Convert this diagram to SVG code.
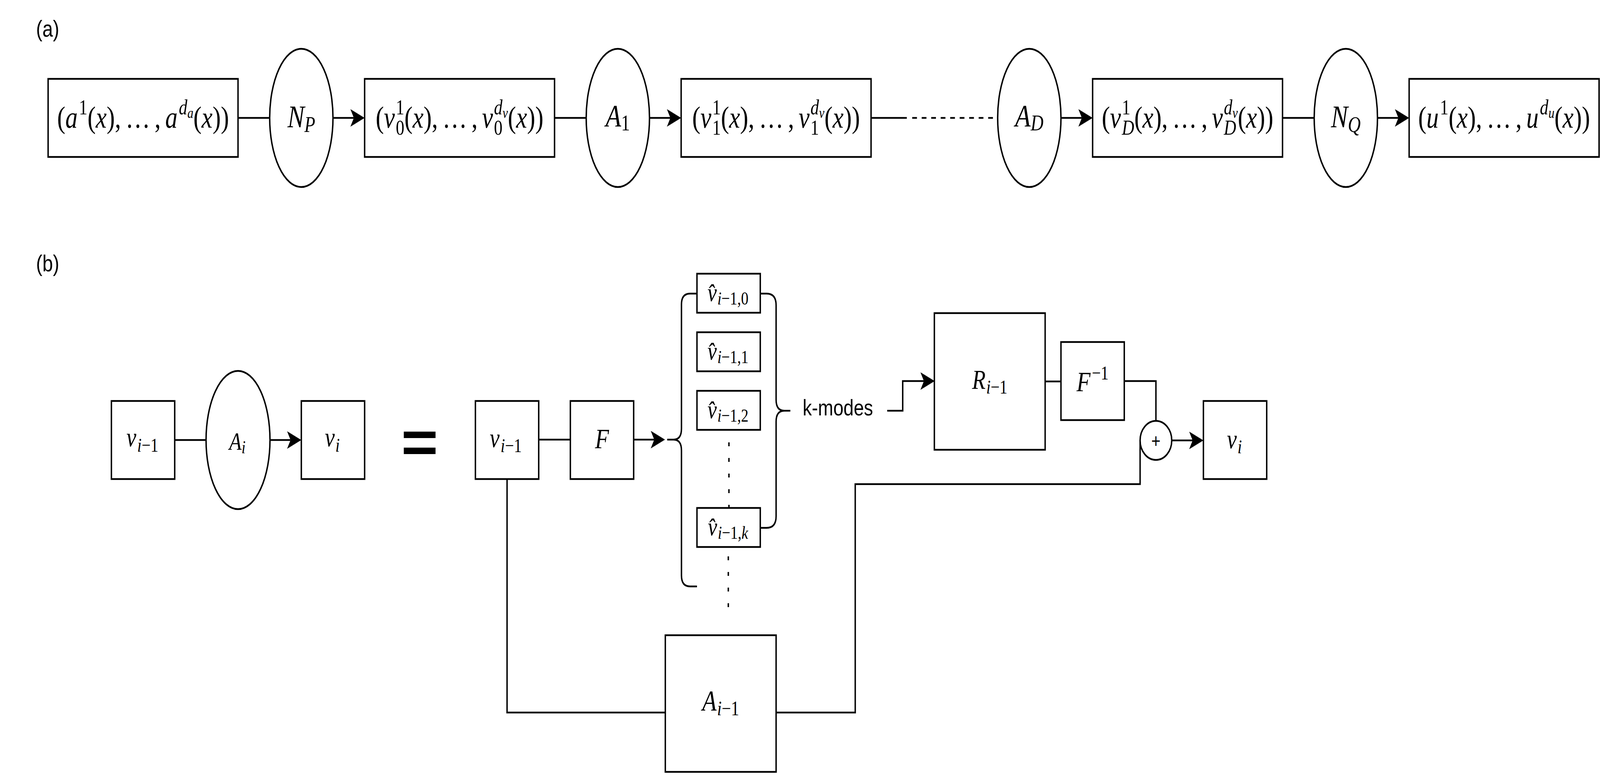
<svg xmlns="http://www.w3.org/2000/svg" width="5055" height="1985" viewBox="0 0 5055 1985" preserveAspectRatio="none" style="width:100%;height:100%;display:block">
<defs>
<marker id="arr" markerUnits="userSpaceOnUse" markerWidth="45" markerHeight="45" viewBox="0 0 45 45" refX="11" refY="22.5" orient="auto"><path d="M0,0 L45,22.5 L0,45 L11,22.5 Z" fill="#000"/></marker>
</defs>
<style>
.s{fill:#fff;stroke:#000;stroke-width:4.5}
.c{fill:none;stroke:#000;stroke-width:4.5}
.ar{marker-end:url(#arr)}
.m{font-family:"Liberation Serif","Times New Roman",serif;fill:#000}
.i{font-style:italic}
.lbl{font-family:"Liberation Sans",Arial,sans-serif;fill:#000}
</style>
<rect width="5055" height="1985" fill="#fff"/>
<text class="lbl" x="114" y="94" font-size="60">(a)</text>
<text class="lbl" x="114" y="695" font-size="60">(b)</text>

<g id="connectors">
<path class="c" d="M752,302 H852"/>
<path class="c ar" d="M1052,302 H1118"/>
<path class="c" d="M1752,302 H1852"/>
<path class="c ar" d="M2052,302 H2118"/>
<path class="c" d="M2752,302 H2865"/>
<path class="c" d="M2867,302 H3153" stroke-dasharray="15 15" stroke-dashoffset="15"/>
<path class="c ar" d="M3352,302 H3418"/>
<path class="c" d="M4052,302 H4152"/>
<path class="c ar" d="M4352,302 H4418"/>
<path class="c" d="M552,1127 H650"/>
<path class="c ar" d="M853,1127 H918"/>
<path class="c" d="M1702,1126 H1802"/>
<path class="c ar" d="M2002,1126 H2067"/>
<path class="c" d="M2202,752 H2180 Q2153,752 2153,780 V1098 Q2153,1126 2128,1126 H2108 M2108,1126 H2128 Q2153,1126 2153,1154 V1474 Q2153,1502 2180,1502 H2202"/>
<path class="c" d="M2402,752 H2422 Q2452,752 2452,782 V1024 Q2452,1052 2478,1052 H2497 M2497,1052 H2478 Q2452,1052 2452,1080 V1322 Q2452,1352 2422,1352 H2402"/>
<path class="c" d="M2303,1103 V1303" stroke-width="10" stroke-dasharray="10 30" stroke-dashoffset="10"/>
<path class="c" d="M2301,1403 V1555" stroke-width="10" stroke-dasharray="10 30" stroke-dashoffset="18"/>
<path class="c ar" d="M2803,1052 H2852 V976 H2919"/>
<path class="c" d="M3302,977 H3352"/>
<path class="c" d="M3552,976 H3652 V1078"/>
<path class="c ar" d="M3702,1128 H3768"/>
<path class="c" d="M1602,1228 V1825 H2102"/>
<path class="c" d="M2452,1825 H2702 V1240 H3602 V1128"/>
</g>

<g id="a-in">
<rect class="s" x="152" y="202" width="600" height="200"/>
<text class="m" x="452" y="327" font-size="78" text-anchor="middle">(<tspan class="i">a</tspan><tspan font-size="54" dx="4" dy="-34">1</tspan><tspan dy="34">(</tspan><tspan class="i">x</tspan>),<tspan dx="14">…</tspan><tspan dx="14">,</tspan><tspan class="i" dx="14">a</tspan><tspan class="i" font-size="54" dx="4" dy="-34">d</tspan><tspan class="i" font-size="38" dy="9">a</tspan><tspan dy="25">(</tspan><tspan class="i">x</tspan>))</text>
</g>
<g id="a-np">
<ellipse class="s" cx="952" cy="302" rx="100" ry="177"/>
<text class="m" x="952" y="326" font-size="80" text-anchor="middle"><tspan class="i">N</tspan><tspan class="i" font-size="56" dy="12">P</tspan></text>
</g>
<g id="a-v0">
<rect class="s" x="1152" y="202" width="600" height="200"/>
<text class="m" x="1452" y="327" font-size="78" text-anchor="middle">(<tspan class="i">v</tspan><tspan font-size="54" dx="3" dy="-34">1</tspan><tspan font-size="54" dx="-27" dy="52">0</tspan><tspan dy="-18">(</tspan><tspan class="i">x</tspan>),<tspan dx="14">…</tspan><tspan dx="14">,</tspan><tspan class="i" dx="14">v</tspan><tspan class="i" font-size="54" dx="3" dy="-34">d</tspan><tspan class="i" font-size="38" dy="9">v</tspan><tspan font-size="54" dx="-44" dy="43">0</tspan><tspan dx="17" dy="-18">(</tspan><tspan class="i">x</tspan>))</text>
</g>
<g id="a-a1">
<ellipse class="s" cx="1952" cy="302" rx="100" ry="177"/>
<text class="m" x="1952" y="324" font-size="80" text-anchor="middle"><tspan class="i">A</tspan><tspan font-size="56" dy="10">1</tspan></text>
</g>
<g id="a-v1">
<rect class="s" x="2152" y="202" width="600" height="200"/>
<text class="m" x="2452" y="327" font-size="78" text-anchor="middle">(<tspan class="i">v</tspan><tspan font-size="54" dx="3" dy="-34">1</tspan><tspan font-size="54" dx="-27" dy="52">1</tspan><tspan dy="-18">(</tspan><tspan class="i">x</tspan>),<tspan dx="14">…</tspan><tspan dx="14">,</tspan><tspan class="i" dx="14">v</tspan><tspan class="i" font-size="54" dx="3" dy="-34">d</tspan><tspan class="i" font-size="38" dy="9">v</tspan><tspan font-size="54" dx="-44" dy="43">1</tspan><tspan dx="17" dy="-18">(</tspan><tspan class="i">x</tspan>))</text>
</g>
<g id="a-ad">
<ellipse class="s" cx="3252" cy="302" rx="100" ry="177"/>
<text class="m" x="3252" y="324" font-size="80" text-anchor="middle"><tspan class="i">A</tspan><tspan class="i" font-size="56" dy="10">D</tspan></text>
</g>
<g id="a-vd">
<rect class="s" x="3452" y="202" width="600" height="200"/>
<text class="m" x="3752" y="327" font-size="78" text-anchor="middle">(<tspan class="i">v</tspan><tspan font-size="54" dx="3" dy="-34">1</tspan><tspan class="i" font-size="54" dx="-27" dy="52">D</tspan><tspan dy="-18">(</tspan><tspan class="i">x</tspan>),<tspan dx="14">…</tspan><tspan dx="14">,</tspan><tspan class="i" dx="14">v</tspan><tspan class="i" font-size="54" dx="3" dy="-34">d</tspan><tspan class="i" font-size="38" dy="9">v</tspan><tspan class="i" font-size="54" dx="-44" dy="43">D</tspan><tspan dx="5" dy="-18">(</tspan><tspan class="i">x</tspan>))</text>
</g>
<g id="a-nq">
<ellipse class="s" cx="4252" cy="302" rx="100" ry="177"/>
<text class="m" x="4252" y="326" font-size="80" text-anchor="middle"><tspan class="i">N</tspan><tspan class="i" font-size="56" dy="12">Q</tspan></text>
</g>
<g id="a-u">
<rect class="s" x="4452" y="202" width="600" height="200"/>
<text class="m" x="4752" y="327" font-size="78" text-anchor="middle">(<tspan class="i">u</tspan><tspan font-size="54" dx="4" dy="-34">1</tspan><tspan dy="34">(</tspan><tspan class="i">x</tspan>),<tspan dx="14">…</tspan><tspan dx="14">,</tspan><tspan class="i" dx="14">u</tspan><tspan class="i" font-size="54" dx="4" dy="-34">d</tspan><tspan class="i" font-size="38" dy="9">u</tspan><tspan dy="25">(</tspan><tspan class="i">x</tspan>))</text>
</g>

<g id="b-vprev">
<rect class="s" x="352" y="1027" width="200" height="200"/>
<text class="m" x="450" y="1143" font-size="70" text-anchor="middle"><tspan class="i">v</tspan><tspan font-size="50" dx="3" dy="14"><tspan class="i">i</tspan>−1</tspan></text>
</g>
<g id="b-ai">
<ellipse class="s" cx="752" cy="1127" rx="101" ry="177"/>
<text class="m" x="750" y="1152" font-size="64" text-anchor="middle"><tspan class="i">A</tspan><tspan class="i" font-size="46" dy="9">i</tspan></text>
</g>
<g id="b-vi">
<rect class="s" x="952" y="1027" width="200" height="200"/>
<text class="m" x="1050" y="1143" font-size="70" text-anchor="middle"><tspan class="i">v</tspan><tspan class="i" font-size="50" dx="2" dy="14">i</tspan></text>
</g>
<g id="b-eq" transform="translate(1326,1185) scale(1,0.76)">
<text class="lbl" x="0" y="0" font-size="200" font-weight="bold" text-anchor="middle">=</text>
</g>
<g id="b-vprev2">
<rect class="s" x="1502" y="1027" width="200" height="200"/>
<text class="m" x="1598" y="1145" font-size="70" text-anchor="middle"><tspan class="i">v</tspan><tspan font-size="50" dx="3" dy="13"><tspan class="i">i</tspan>−1</tspan></text>
</g>
<g id="b-f">
<rect class="s" x="1802" y="1027" width="200" height="200"/>
<text class="m i" x="1902" y="1148" font-size="72" text-anchor="middle">F</text>
</g>
<g id="b-h0">
<rect class="s" x="2202" y="701" width="200" height="100"/>
<text class="m" x="2300" y="771" font-size="66" text-anchor="middle"><tspan class="i">v̂</tspan><tspan font-size="47" dx="2" dy="9"><tspan class="i">i</tspan>−1,0</tspan></text>
</g>
<g id="b-h1">
<rect class="s" x="2202" y="851" width="200" height="100"/>
<text class="m" x="2300" y="921" font-size="66" text-anchor="middle"><tspan class="i">v̂</tspan><tspan font-size="47" dx="2" dy="9"><tspan class="i">i</tspan>−1,1</tspan></text>
</g>
<g id="b-h2">
<rect class="s" x="2202" y="1001" width="200" height="100"/>
<text class="m" x="2300" y="1071" font-size="66" text-anchor="middle"><tspan class="i">v̂</tspan><tspan font-size="47" dx="2" dy="9"><tspan class="i">i</tspan>−1,2</tspan></text>
</g>
<g id="b-hk">
<rect class="s" x="2202" y="1301" width="200" height="100"/>
<text class="m" x="2300" y="1371" font-size="66" text-anchor="middle"><tspan class="i">v̂</tspan><tspan font-size="47" dx="2" dy="9"><tspan class="i">i</tspan>−1,<tspan class="i">k</tspan></tspan></text>
</g>
<g id="b-kmodes">
<text class="lbl" x="2536" y="1064" font-size="58">k-modes</text>
</g>
<g id="b-r">
<rect class="s" x="2952" y="802" width="350" height="350"/>
<text class="m" x="3127" y="996" font-size="70" text-anchor="middle"><tspan class="i">R</tspan><tspan font-size="50" dx="2" dy="12"><tspan class="i">i</tspan>−1</tspan></text>
</g>
<g id="b-finv">
<rect class="s" x="3352" y="876" width="200" height="200"/>
<text class="m" x="3452" y="1002" font-size="72" text-anchor="middle"><tspan class="i">F</tspan><tspan font-size="50" dx="4" dy="-30">−1</tspan></text>
</g>
<g id="b-plus">
<circle class="s" cx="3652" cy="1128" r="50"/>
<text class="lbl" x="3652" y="1146" font-size="50" text-anchor="middle">+</text>
</g>
<g id="b-vi2">
<rect class="s" x="3802" y="1027" width="200" height="200"/>
<text class="m" x="3900" y="1148" font-size="70" text-anchor="middle"><tspan class="i">v</tspan><tspan class="i" font-size="50" dx="2" dy="13">i</tspan></text>
</g>
<g id="b-a">
<rect class="s" x="2102" y="1627" width="350" height="350"/>
<text class="m" x="2277" y="1820" font-size="74" text-anchor="middle"><tspan class="i">A</tspan><tspan font-size="52" dx="2" dy="12"><tspan class="i">i</tspan>−1</tspan></text>
</g>
</svg>
